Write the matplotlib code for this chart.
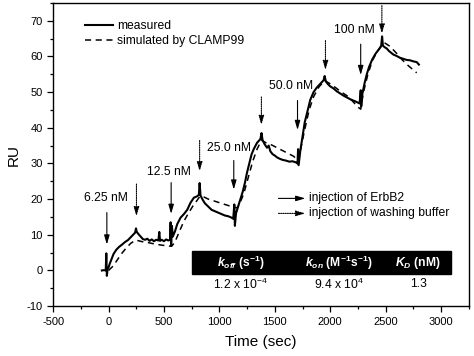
import numpy as np
import matplotlib
matplotlib.use("Agg")
import matplotlib.pyplot as plt
from matplotlib.ticker import MultipleLocator

plt.rcParams['font.family'] = ['Liberation Sans', 'DejaVu Sans']
plt.rcParams['axes.unicode_minus'] = False
plt.rcParams['mathtext.fontset'] = 'custom'
plt.rcParams['mathtext.rm'] = 'Liberation Sans'
plt.rcParams['mathtext.it'] = 'Liberation Sans:italic'
plt.rcParams['mathtext.bf'] = 'Liberation Sans:bold'
plt.rcParams['mathtext.bfit'] = 'Liberation Sans:italic:bold'

# measured sensorgram (sec, RU)
t_meas = [-60, -40, -25, -20, -15, -8, 0, 10, 25, 45, 70, 95, 120, 150, 175, 200, 220, 240, 248, 255,
          270, 290, 310, 330, 350, 370, 390, 410, 430, 450, 458, 465, 480, 500, 520, 540, 555, 560, 565, 572,
          580, 600, 620, 650, 680, 710, 740, 770, 800, 815, 822, 830, 850, 870, 900, 930, 960, 990, 1020, 1050,
          1080, 1110, 1125, 1135, 1140, 1150, 1170, 1190, 1210, 1230, 1250, 1270, 1290, 1310, 1340, 1370, 1380, 1390, 1410, 1430,
          1445, 1460, 1480, 1500, 1520, 1545, 1570, 1600, 1630, 1660, 1690, 1705, 1710, 1715, 1730, 1750, 1770, 1790, 1820, 1850,
          1880, 1910, 1940, 1950, 1960, 1980, 2000, 2030, 2060, 2090, 2120, 2150, 2180, 2210, 2240, 2265, 2275, 2280, 2290, 2310,
          2330, 2350, 2380, 2410, 2440, 2460, 2468, 2475, 2490, 2510, 2530, 2550, 2570, 2600, 2630, 2660, 2690, 2720, 2750, 2780,
          2800]
y_meas = [0.0, 0.1, 0.0, 4.8, -1.5, 0.5, 0.8, 1.8, 3.0, 4.6, 5.8, 6.6, 7.2, 8.0, 8.5, 9.3, 9.9, 10.6, 11.8, 10.8,
          10.2, 9.5, 8.8, 8.6, 8.9, 8.3, 8.7, 8.2, 8.6, 8.4, 10.8, 8.3, 8.6, 8.2, 8.7, 8.4, 8.6, 13.5, 7.0, 12.5,
          9.5, 11.0, 13.0, 14.8, 15.8, 17.0, 19.0, 20.4, 20.8, 21.2, 24.5, 21.0, 19.8, 18.8, 17.9, 17.0, 16.6, 16.2, 15.8, 15.4,
          15.2, 14.8, 14.5, 18.5, 12.5, 16.0, 18.0, 20.0, 22.0, 24.5, 27.5, 30.0, 32.5, 34.0, 35.8, 36.8, 38.5, 36.5, 35.3, 34.4,
          35.0, 33.4, 32.6, 32.2, 31.7, 31.3, 31.0, 30.8, 30.5, 30.6, 30.3, 30.0, 34.0, 29.5, 33.5, 37.5, 41.5, 44.0, 47.8, 50.0,
          51.3, 52.3, 53.3, 54.5, 53.0, 52.2, 51.6, 51.0, 50.2, 49.6, 49.0, 48.5, 48.0, 47.6, 47.2, 46.8, 50.5, 46.0, 49.5, 52.5,
          55.0, 57.0, 59.2, 60.8, 62.0, 63.0, 65.6, 63.0, 62.6, 62.2, 61.5, 61.0, 60.5, 60.1, 59.6, 59.3, 59.0, 58.9, 58.6, 58.4,
          57.7]

# simulated by CLAMP99
t_sim = [0, 40, 80, 120, 160, 200, 240, 250, 300, 360, 420, 480, 560, 570, 600, 640, 680, 720, 760, 800,
         825, 860, 900, 950, 1000, 1050, 1100, 1140, 1160, 1180, 1220, 1260, 1300, 1340, 1380, 1420, 1470, 1520, 1570, 1620,
         1670, 1710, 1730, 1770, 1810, 1850, 1900, 1950, 1990, 2050, 2100, 2150, 2200, 2250, 2275, 2300, 2340, 2380, 2430, 2490,
         2540, 2600, 2650, 2700, 2780]
y_sim = [0, 1.2, 3.0, 4.8, 6.3, 7.6, 8.4, 8.5, 8.1, 7.8, 7.4, 7.1, 6.8, 6.8, 8.0, 11.0, 13.8, 16.0, 18.0, 19.7,
         20.8, 20.6, 20.0, 19.5, 19.0, 18.5, 18.0, 17.6, 17.6, 18.5, 21.5, 26.0, 30.5, 34.0, 36.5, 35.8, 35.2, 34.4, 33.6, 32.8,
         32.0, 30.8, 33.5, 39.5, 45.0, 48.7, 51.5, 53.2, 52.5, 51.2, 50.0, 49.0, 47.5, 45.8, 45.2, 50.0, 55.0, 58.8, 61.7, 63.8,
         62.8, 60.8, 59.0, 57.5, 55.4]

# injections of ErbB2: time, label, label position, arrow top, arrow tip
inj_t = [-15, 565, 1130, 1705, 2275]
inj_label = ['6.25 nM', '12.5 nM', '25.0 nM', '50.0 nM', '100 nM']
inj_label_t = [-20, 545, 1085, 1650, 2215]
inj_label_y = [20.3, 27.5, 34.4, 51.7, 67.5]
inj_top = [17.0, 25.4, 31.6, 48.4, 64.2]
inj_tip = [6.5, 15.1, 21.9, 38.6, 54.0]

# washing buffer injections
wash_t = [252, 822, 1379, 1957, 2466]
wash_top = [25.0, 37.2, 49.4, 65.2, 75.0]
wash_tip = [14.4, 27.0, 40.0, 55.4, 65.6]

header = [r'$\mathbfit{k}_{\mathbfit{o}\mathbfit{f}\mathbfit{f}}$ (s$^{\mathbf{-1}}$)',
          r'$\mathbfit{k}_{\mathbfit{on}}$ (M$^{\mathbf{-1}}$s$^{\mathbf{-1}}$)',
          r'$\mathbfit{K}_{\mathbfit{D}}$ (nM)']
values = [r'1.2 x 10$^{-4}$', r'9.4 x 10$^{4}$', '1.3']
col_t = [1190, 2074, 2793]

fs = 8.7
head = '-|>,head_length=0.55,head_width=0.16'

fig = plt.figure(figsize=(4.74, 3.56), dpi=100)
ax = fig.add_axes([0.112, 0.140, 0.877, 0.852])

ax.plot(t_meas, y_meas, color='black', lw=1.5, label='measured')
ax.plot(t_sim, y_sim, color='black', lw=1.1, ls=(0, (4, 3)), label='simulated by CLAMP99')

for t, top, tip in zip(inj_t, inj_top, inj_tip):
    ax.annotate('', xy=(t, tip), xytext=(t, top),
                arrowprops=dict(arrowstyle=head, color='black', lw=0.8))
for lab, lt, ly in zip(inj_label, inj_label_t, inj_label_y):
    ax.text(lt, ly, lab, fontsize=fs, ha='center', va='center')
for t, top, tip in zip(wash_t, wash_top, wash_tip):
    ax.annotate('', xy=(t, tip), xytext=(t, top),
                arrowprops=dict(arrowstyle=head, color='black', lw=0.8, ls=(0, (1, 1))))

# arrow legend
ax.annotate('', xy=(1800, 20.2), xytext=(1508, 20.2),
            arrowprops=dict(arrowstyle=head, color='black', lw=0.8))
ax.annotate('', xy=(1800, 16.0), xytext=(1508, 16.0),
            arrowprops=dict(arrowstyle=head, color='black', lw=0.8, ls=(0, (1, 1))))
ax.text(1812, 20.2, 'injection of ErbB2', fontsize=fs, va='center')
ax.text(1812, 16.0, 'injection of washing buffer', fontsize=fs, va='center')

# table of rate constants
ax.add_patch(plt.Rectangle((757, -0.9), 2336, 6.3, color='black', zorder=3))
for t, h, v in zip(col_t, header, values):
    ax.text(t, 2.2, h, color='white', fontsize=fs, fontweight='bold', ha='center', va='center', zorder=4)
    ax.text(t, -3.8, v, color='black', fontsize=fs, ha='center', va='center', zorder=4)

ax.legend(loc='upper left', bbox_to_anchor=(0.065, 0.958), frameon=False, fontsize=fs,
          handlelength=2.3, handletextpad=0.35, labelspacing=0.2, borderaxespad=0)

ax.set_xlim(-500, 3250)
ax.set_ylim(-10, 75)
ax.xaxis.set_major_locator(MultipleLocator(500))
ax.xaxis.set_minor_locator(MultipleLocator(250))
ax.yaxis.set_major_locator(MultipleLocator(10))
ax.yaxis.set_minor_locator(MultipleLocator(5))
ax.tick_params(which='both', direction='out', labelsize=8, width=0.9)
ax.tick_params(which='major', length=4)
ax.tick_params(which='minor', length=2.5)
for s in ax.spines.values():
    s.set_linewidth(1.0)
ax.set_xlabel('Time (sec)', fontsize=11, labelpad=6)
ax.set_ylabel('RU', fontsize=11, labelpad=4)

fig.savefig('out.png', dpi=100)
